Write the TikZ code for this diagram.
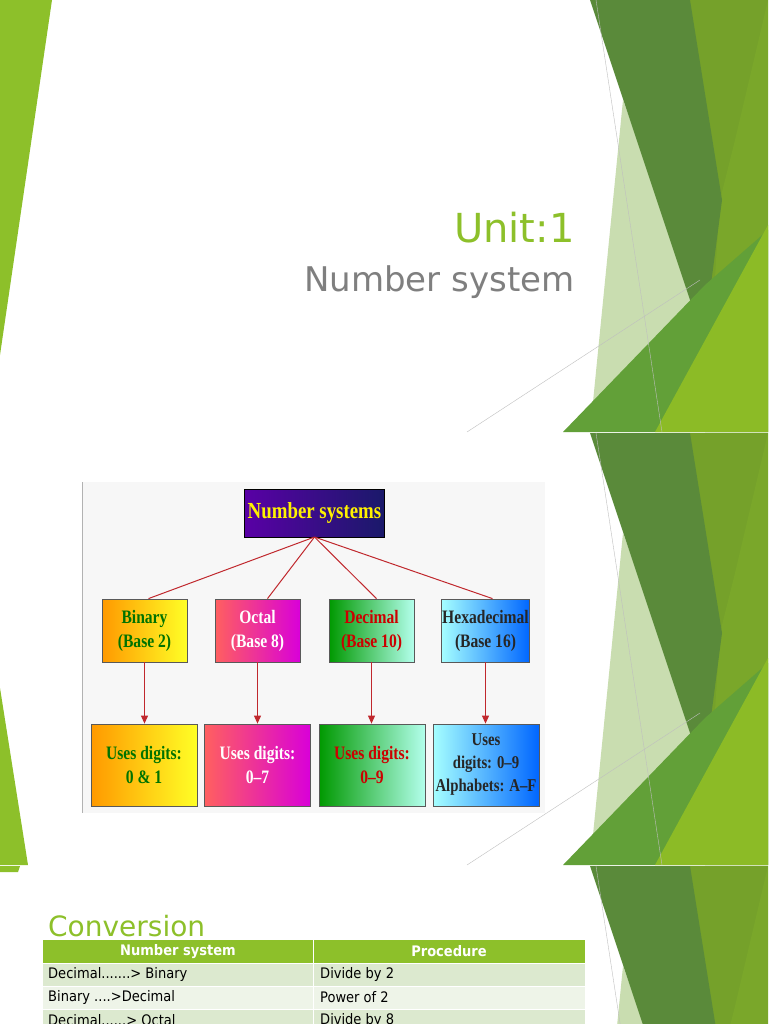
\documentclass[tikz,border=0pt]{standalone}
\usepackage{fontspec}
\setmainfont{DejaVu Sans}
\newfontfamily\dfont[FakeStretch=0.82]{Liberation Serif}
\newfontfamily\tfont{DejaVu Sans Condensed}
\usetikzlibrary{arrows.meta}
\definecolor{lgreen}{HTML}{8DC02A}
\definecolor{dgreen}{HTML}{5A8A3A}
\definecolor{olive}{HTML}{75A12A}
\definecolor{mgreen}{HTML}{62A038}
\definecolor{ygreen}{HTML}{8CBB26}
\definecolor{pale}{HTML}{C9DDB0}
\definecolor{ttl}{HTML}{7F7F7F}
\definecolor{redl}{HTML}{C0282D}
\definecolor{rowa}{HTML}{DCE9CF}
\definecolor{rowb}{HTML}{EEF4E8}
\tikzset{
  nbox/.style={draw=gray!70!black, line width=0.8pt, minimum width=85pt, minimum height=63pt, align=center, inner sep=1pt, font=\dfont\bfseries\fontsize{19}{24}\selectfont},
  ubox/.style={draw=gray!70!black, line width=0.8pt, minimum width=106pt, minimum height=82pt, align=center, inner sep=1pt, font=\dfont\bfseries\fontsize{19}{24}\selectfont},
  link/.style={redl, line width=1pt},
  arr/.style={redl, line width=1pt, -{Triangle[length=8pt,width=7pt]}},
  cell/.style={anchor=west, font=\tfont\fontsize{14.5}{16}\selectfont, inner sep=0pt},
  hcell/.style={font=\tfont\bfseries\fontsize{14.5}{16}\selectfont, text=white, inner sep=0pt}
}
\newcommand{\deco}{%
  \fill[pale] (623,100) -- (695,300) -- (600,432) -- (590,432) -- cycle;
  \fill[olive] (690,0) -- (768,0) -- (768,432) -- (690,432) -- cycle;
  \fill[olive!80!lgreen] (720,200) -- (735,140) -- (768,0) -- (768,432) -- (705,432) -- cycle;
  \fill[dgreen] (590,0) -- (690,0) -- (722,200) -- (705,330) -- (700,330) -- cycle;
  \fill[mgreen] (563,432) -- (705,285) -- (768,230) -- (768,432) -- cycle;
  \fill[ygreen] (655,432) -- (768,225) -- (768,432) -- cycle;
  \draw[gray!50, line width=0.4pt] (596,0) -- (662,432);
  \draw[gray!50, line width=0.4pt] (467,432) -- (700,280);
}
\begin{document}
\begin{tikzpicture}[x=1pt,y=-1pt]
\useasboundingbox (0,0) rectangle (768,1024);
\fill[white] (0,0) rectangle (768,1024);
% slide 1
\begin{scope}
  \clip (0,0) rectangle (768,432);
  \deco
  \fill[lgreen] (0,0) -- (52,0) -- (0,355) -- cycle;
\end{scope}
\node[anchor=east, text=lgreen, font=\fontsize{40}{46}\selectfont] (unit) at (578,228) {Unit:1};
\node[anchor=east, text=ttl, font=\fontsize{34}{38}\selectfont] (ns) at (578,282) {Number system};
% slide 2
\begin{scope}[shift={(0,433)}]
  \clip (0,0) rectangle (768,432);
  \deco
  \fill[lgreen] (0,255) -- (28,432) -- (0,432) -- cycle;
\end{scope}
% diagram
\fill[gray!6] (82,482) rectangle (545,813);
\draw[gray!60, line width=0.6pt] (82,482) -- (82,813);
\node[draw=black, line width=1pt, minimum width=135pt, minimum height=48pt, left color=violet!70!blue, right color=blue!35!black!90, text=yellow, font=\dfont\bfseries\fontsize{23}{26}\selectfont] (top) at (314.5,513) {Number systems};
\node[nbox, left color=orange!80!yellow, right color=yellow!85!white, text=green!45!black] (bin) at (144.5,630.5) {Binary\\(Base 2)};
\node[nbox, left color=red!50!pink, right color=magenta!70!violet, text=white] (oct) at (257.5,630.5) {Octal\\(Base 8)};
\node[nbox, left color=green!60!black, right color=green!25!cyan!30, text=red!80!black] (dec) at (371.5,630.5) {Decimal\\(Base 10)};
\node[nbox, left color=cyan!35, right color=blue!60!cyan, text=black!85] (hex) at (485.5,630.5) {Hexadecimal\\(Base 16)};
\node[ubox, left color=orange!80!yellow, right color=yellow!85!white, text=green!45!black] (ubin) at (144,765) {Uses digits:\\0 \& 1};
\node[ubox, left color=red!50!pink, right color=magenta!70!violet, text=white] (uoct) at (257.5,765) {Uses digits:\\0–7};
\node[ubox, left color=green!60!black, right color=green!25!cyan!30, text=red!80!black] (udec) at (372,765) {Uses digits:\\0–9};
\node[ubox, left color=cyan!35, right color=blue!60!cyan, text=black!85, font=\dfont\bfseries\fontsize{18}{23}\selectfont] (uhex) at (486,765) {Uses\\digits: 0–9\\Alphabets: A–F};
\coordinate (tb) at (314.5,537);
\draw[link] (tb) -- ([xshift=4pt]bin.north);
\draw[link] (tb) -- ([xshift=10pt]oct.north);
\draw[link] (tb) -- ([xshift=5pt]dec.north);
\draw[link] (tb) -- ([xshift=7pt]hex.north);
\draw[arr] (bin.south) -- (bin.south |- ubin.north);
\draw[arr] (oct.south) -- (oct.south |- uoct.north);
\draw[arr] (dec.south) -- (dec.south |- udec.north);
\draw[arr] (hex.south) -- (hex.south |- uhex.north);
% slide 3
\begin{scope}[shift={(0,866)}]
  \clip (0,0) rectangle (768,160);
  \deco
  \fill[lgreen] (0,0) -- (20,0) -- (18,6) -- (0,6) -- cycle;
\end{scope}
\node[anchor=west, text=lgreen, font=\fontsize{28}{32}\selectfont, inner sep=0pt] (conv) at (48,926) {Conversion};
\fill[lgreen] (43,940) rectangle (585,963);
\fill[rowa] (43,963) rectangle (585,986);
\fill[rowb] (43,986) rectangle (585,1009);
\fill[rowa] (43,1009) rectangle (585,1032);
\draw[white, line width=1pt] (313,940) -- (313,1024);
\draw[white, line width=1pt] (43,963) -- (585,963) (43,986) -- (585,986) (43,1009) -- (585,1009);
\node[hcell] (h1) at (178,951.5) {Number system};
\node[hcell] (h2) at (449,951.5) {Procedure};
\node[cell] (a1) at (48,974.5) {Decimal.......> Binary};
\node[cell] (b1) at (320,974.5) {Divide by 2};
\node[cell] (a2) at (48,997.5) {Binary ....>Decimal};
\node[cell] (b2) at (320,997.5) {Power of 2};
\node[cell] (a3) at (48,1020.5) {Decimal......> Octal};
\node[cell] (b3) at (320,1020.5) {Divide by 8};
\end{tikzpicture}
\end{document}
